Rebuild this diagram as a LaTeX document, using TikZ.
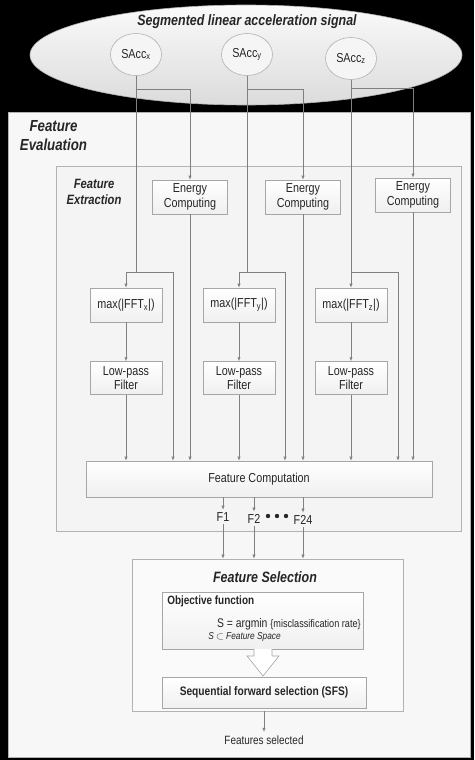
\documentclass[tikz,border=0pt]{standalone}
\usepackage{fontspec}
\setmainfont{Liberation Sans}[FakeStretch=0.83]
\usepackage{xcolor}
\usetikzlibrary{positioning,arrows.meta,shapes.geometric}

\begin{document}
\begin{tikzpicture}[x=1pt, y=-1pt, line width=0.6pt, text=black!85,
	box/.style={draw=gray!70, top color=white, bottom color=gray!12, minimum width=72pt, minimum height=34pt, inner sep=1pt, align=center, font=\fontsize{13}{14.5}\selectfont},
	sig/.style={ellipse, draw=gray!60, fill=gray!8, minimum width=51pt, minimum height=42pt, inner sep=0pt, font=\fontsize{13}{14}\selectfont},
	frame/.style={draw=gray!60, fill=gray!6},
	ttl/.style={align=center, font=\fontsize{15}{17}\selectfont\bfseries\itshape},
	wire/.style={draw=gray},
	arr/.style={draw=gray, -{Latex[length=4pt,width=3.2pt]}},
	lbl/.style={inner sep=2.5pt, font=\fontsize{13}{14}\selectfont}]
		\fill[black] (0,0) rectangle (474,760);
		\useasboundingbox (0,0) rectangle (474,760);
		% signal
		\node[ellipse, draw=gray!60, top color=gray!4, bottom color=gray!28, minimum width=432pt, minimum height=100pt] (signal) at (246,55) {};
		\node[ttl] (sigtitle) at (247,22) {Segmented linear acceleration signal};
		\node[sig] (sx) at (136,54.5) {SAcc\textsubscript{x}};
		\node[sig] (sy) at (247,54.5) {SAcc\textsubscript{y}};
		\node[sig] (sz) at (351,58.5) {SAcc\textsubscript{z}};
		% containers
		\node[frame, minimum width=462pt, minimum height=645pt, inner sep=0pt] (eval) at (239,434.5) {};
		\node[ttl, font=\fontsize{16}{19}\selectfont\bfseries\itshape] (evaltitle) at (53.5,136) {Feature\\Evaluation};
		\node[frame, fill=gray!9, minimum width=405pt, minimum height=365pt, inner sep=0pt] (extr) at (258.5,348.5) {};
		\node[ttl, font=\fontsize{13.5}{15.5}\selectfont\bfseries\itshape] (extrtitle) at (94,192) {Feature\\Extraction};
		% blocks
		\node[box, minimum width=75pt] (ex) at (190,197) {Energy\\Computing};
		\node[box, minimum width=75pt] (ey) at (303,197) {Energy\\Computing};
		\node[box, minimum width=75pt] (ez) at (413,195) {Energy\\Computing};
		\node[box] (mx) at (126,305) {max(|FFT\textsubscript{x}|)};
		\node[box] (my) at (239,305) {max(|FFT\textsubscript{y}|)};
		\node[box] (mz) at (351,305) {max(|FFT\textsubscript{z}|)};
		\node[box, below=39pt of mx, minimum height=33pt] (lx) {Low-pass\\Filter};
		\node[box, below=39pt of my, minimum height=33pt] (ly) {Low-pass\\Filter};
		\node[box, below=39pt of mz, minimum height=33pt] (lz) {Low-pass\\Filter};
		\node[box, minimum width=346pt, minimum height=36pt] (fc) at (259,479) {Feature Computation};
		% junctions
		\coordinate (bx) at (136,89);
		\coordinate (by) at (247,89);
		\coordinate (bz) at (351,88);
		\coordinate (jx) at (136,272);
		\coordinate (jy) at (247,272);
		\coordinate (jz) at (351,272);
		\coordinate (tx) at (173,0);
		\coordinate (ty) at (285,0);
		\coordinate (tz) at (398,0);
		% x channel
		\draw[wire] (sx.south) -- (jx);
		\draw[arr] (bx) -| (ex.north);
		\draw[arr] (jx) -| (mx.north);
		\draw[arr] (jx) -| (tx |- fc.north);
		\draw[arr] (mx) -- (lx);
		\draw[arr] (lx) -- (lx |- fc.north);
		\draw[arr] (ex) -- (ex |- fc.north);
		% y channel
		\draw[wire] (sy.south) -- (jy);
		\draw[arr] (by) -| (ey.north);
		\draw[arr] (jy) -| (my.north);
		\draw[arr] (jy) -| (ty |- fc.north);
		\draw[arr] (my) -- (ly);
		\draw[arr] (ly) -- (ly |- fc.north);
		\draw[arr] (ey) -- (ey |- fc.north);
		% z channel
		\draw[wire] (sz.south) -- (jz);
		\draw[arr] (bz) -| (ez.north);
		\draw[arr] (jz) -- (mz.north);
		\draw[arr] (jz) -| (tz |- fc.north);
		\draw[arr] (mz) -- (lz);
		\draw[arr] (lz) -- (lz |- fc.north);
		\draw[arr] (ez) -- (ez |- fc.north);
		% features
		\node[lbl] (f1) at (223,517) {F1};
		\node[lbl] (f2) at (254,519) {F2};
		\node[lbl] (f24) at (303,520) {F24};
		\fill[black!85] (268,516) circle (2.2) (277,516) circle (2.2) (286,516) circle (2.2);
		% selection
		\node[frame, fill=gray!4, minimum width=271pt, minimum height=152pt, inner sep=0pt] (fs) at (267.5,635) {};
		\node[ttl] (fstitle) at (265,577) {Feature Selection};
		\node[box, minimum width=201pt, minimum height=57pt] (obj) at (262.5,620.5) {};
		\node[anchor=west, inner sep=0pt, font=\fontsize{12}{14}\selectfont\bfseries] (objtitle) at (167,601) {Objective function};
		\node[anchor=east, inner sep=0pt, font=\fontsize{12.5}{14}\selectfont] (argmin) at (361,624) {S = argmin {\fontsize{11}{13}\selectfont\{misclassification rate\}}};
		\node[anchor=west, inner sep=0pt, font=\fontsize{10}{12}\selectfont\itshape] (space) at (208,637) {S $\subset$ Feature Space};
		\node[box, minimum width=204pt, minimum height=31pt, font=\fontsize{12.3}{14}\selectfont\bfseries] (sfs) at (264,692.5) {Sequential forward selection (SFS)};
		\draw[draw=gray!70, fill=white] (254,649) -- (254,656) -- (247,656) -- (263,676) -- (279,656) -- (272,656) -- (272,649);
		\node[font=\fontsize{12}{14}\selectfont] (out) at (264,740) {Features selected};
		% feature arrows
		\draw[arr] (f1 |- fc.south) -- (f1.north);
		\draw[arr] (f2 |- fc.south) -- (f2.north);
		\draw[arr] (f24 |- fc.south) -- (f24.north);
		\draw[arr] (f1.south) -- (f1 |- fs.north);
		\draw[arr] (f2.south) -- (f2 |- fs.north);
		\draw[arr] (f24.south) -- (f24 |- fs.north);
		\draw[arr] (out.north |- fs.south) -- (out.north);
	\end{tikzpicture}
\end{document}
